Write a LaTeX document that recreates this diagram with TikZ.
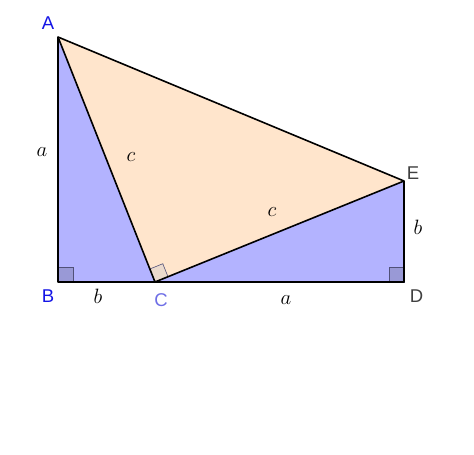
\documentclass[tikz,border=0pt]{standalone}
\usepackage{fontspec}
\setsansfont{Liberation Sans}
\usetikzlibrary{calc}
\definecolor{bluefill}{RGB}{179,179,255}
\definecolor{peach}{RGB}{255,229,204}
\definecolor{markblue}{RGB}{153,153,214}
\definecolor{markpeach}{RGB}{235,218,205}
\definecolor{markline}{RGB}{80,80,120}
\definecolor{labblue}{RGB}{20,20,230}
\definecolor{labC}{RGB}{110,110,230}
\begin{document}
\begin{tikzpicture}[x=1pt,y=-1pt,
  edge/.style={draw=black,line width=1.6pt,line join=round},
  ptlab/.style={font=\sffamily\fontsize{18.5}{18.5}\selectfont},
  seglab/.style={font=\fontsize{20}{20}\selectfont},
  ramark/.style={draw=markline,line width=0.6pt,fill=#1}]
\useasboundingbox (0,0) rectangle (474,455);
\fill[white] (0,0) rectangle (474,455);
\coordinate (A) at (58,37);
\coordinate (B) at (58,282);
\coordinate (C) at (155,282);
\coordinate (D) at (404,282);
\coordinate (E) at (404,181);
\fill[bluefill] (A) -- (B) -- (C) -- cycle;
\fill[bluefill] (C) -- (D) -- (E) -- cycle;
\fill[peach] (A) -- (C) -- (E) -- cycle;
% right angle marks
\draw[ramark=markblue] (B) rectangle ++(15,-15);
\draw[ramark=markblue] (D) rectangle ++(-15,-15);
\coordinate (CA) at ($(C)!14pt!(A)$);
\coordinate (CE) at ($(C)!14pt!(E)$);
\draw[ramark=markpeach] (C) -- (CA) -- ($(CA)+(CE)-(C)$) -- (CE) -- cycle;
\draw[edge] (A) -- (B) -- (D) -- (E) -- cycle;
\draw[edge] (A) -- (C) -- (E);
\node[ptlab,text=labblue] (lA) at (48,23) {A};
\node[ptlab,text=labblue] (lB) at (48,296) {B};
\node[ptlab,text=labC] (lC) at (161,300) {C};
\node[ptlab,text=black!75] (lD) at (416.5,296) {D};
\node[ptlab,text=black!75] (lE) at (413,173) {E};
\node[seglab] (sa1) at (42,152) {$a$};
\node[seglab] (sc1) at (131,157) {$c$};
\node[seglab] (sc2) at (272,212) {$c$};
\node[seglab] (sb1) at (98,296) {$b$};
\node[seglab] (sa2) at (286,300) {$a$};
\node[seglab] (sb2) at (418,227) {$b$};
\end{tikzpicture}
\end{document}
